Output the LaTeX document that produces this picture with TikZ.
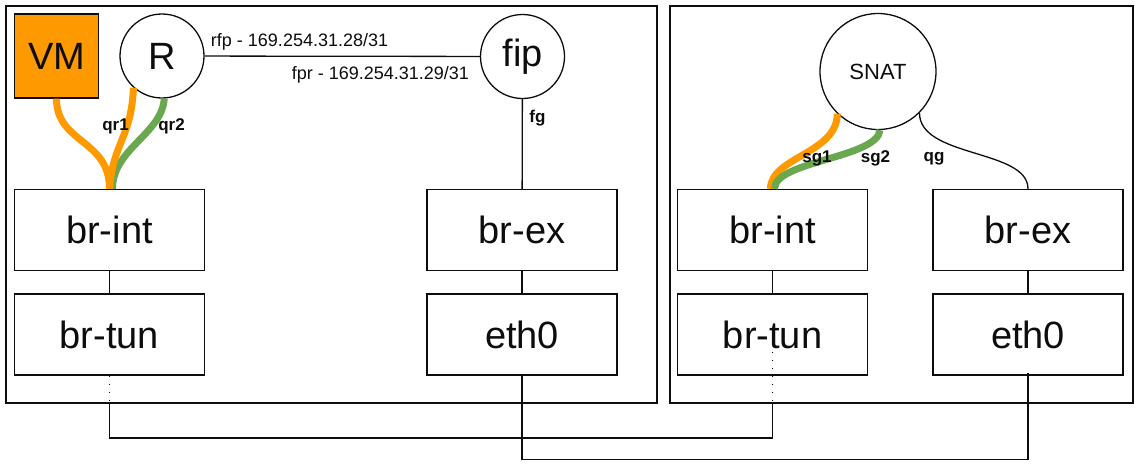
\documentclass[tikz,border=0pt]{standalone}
\usepackage{fontspec}
\setmainfont{Liberation Sans}
\usepackage{tikz}
\usetikzlibrary{calc, positioning}
\definecolor{vmOrange}{HTML}{FF9900}
\definecolor{linkGreen}{HTML}{6AA84F}
\definecolor{lineBlack}{gray}{0.05}

\begin{document}
\begin{tikzpicture}[x=1pt, y=-1pt, line width=1.3pt, lineBlack,
    bridge/.style={draw, rectangle, minimum width=190pt, minimum height=81pt, inner sep=0pt, font=\fontsize{38}{38}\selectfont},
    router/.style={draw, circle, minimum size=84pt, inner sep=0pt, font=\fontsize{38}{38}\selectfont},
    portlabel/.style={anchor=base, font=\fontsize{17}{17}\selectfont\bfseries},
    addrlabel/.style={font=\fontsize{18}{18}\selectfont},
    orangeLink/.style={vmOrange, line width=7pt},
    greenLink/.style={linkGreen, line width=7pt}]
    \useasboundingbox (0,0) rectangle (1137,467);
    % hosts
    \draw (6,6) rectangle (657,403);
    \draw (670,6) rectangle (1133,403);
    % network node
    \node[draw, rectangle, fill=vmOrange, minimum size=84pt, inner sep=0pt, font=\fontsize{38}{38}\selectfont] (VM) at (56.5,56) {VM};
    \node[router] (R) at (162,56) {R};
    \node[router] (fip) at (522.5,56.5) {fip};
    \node[bridge] (brintL) at (109.5,230) {br-int};
    \node[bridge] (brtunL) at (109.5,334.5) {br-tun};
    \node[bridge] (brexL) at (522,230) {br-ex};
    \node[bridge] (ethL) at (522,334.5) {eth0};
    % snat node
    \node[router, minimum size=116pt, font=\fontsize{22}{22}\selectfont] (SNAT) at (878,71.5) {SNAT};
    \node[bridge] (brintR) at (772.5,230) {br-int};
    \node[bridge] (brtunR) at (772.5,334.5) {br-tun};
    \node[bridge] (brexR) at (1028,230) {br-ex};
    \node[bridge] (ethR) at (1028,334.5) {eth0};

    \draw (R) -- (fip);
    \node[addrlabel, anchor=base west] at (207,46.5) {rfp - 169.254.31.28/31};
    \node[addrlabel, anchor=base east] at (473,79) {fpr - 169.254.31.29/31};
    \draw (fip) -- (brexL);
    \node[portlabel] at (537.5,122) {fg};
    \draw (brintL) -- (brtunL);
    \draw (brexL) -- (ethL);
    \draw (brintR) -- (brtunR);
    \draw (brexR) -- (ethR);

    \draw[greenLink] (R.-87) .. controls +(-2,35) and +(0,-40) .. ([xshift=3pt]brintL.north);
    \draw[orangeLink] (R.-132) .. controls +(-2,50) and +(3,-45) .. (brintL.north);
    \draw[orangeLink] (VM.south) .. controls +(0,45) and +(0,-50) .. (brintL.north);
    \node[portlabel] at (115.5,130) {qr1};
    \node[portlabel] at (171.5,130) {qr2};

    \draw[orangeLink] (SNAT.-134) .. controls +(0,40) and +(0,-32) .. ([xshift=-2pt]brintR.north);
    \draw[greenLink] (SNAT.-88) .. controls +(-3,28) and +(0,-28) .. ([xshift=2pt]brintR.north);
    \draw (SNAT.-45) .. controls +(0,45) and +(0,-40) .. (brexR.north);
    \node[portlabel] at (817,162) {sg1};
    \node[portlabel] at (875.5,162) {sg2};
    \node[portlabel] at (934,161) {qg};

    % tunnel and external links
    \coordinate (tunL) at (109.5,403);
    \coordinate (tunR) at (772.5,403);
    \draw[line width=1.5pt, dash pattern=on 1.5pt off 6.5pt] (brtunL.south) -- (tunL);
    \draw[line width=1.5pt, dash pattern=on 1.5pt off 6.5pt] ([yshift=32pt]brtunR.south) -- (tunR);
    \draw (tunL) -- ++(0,35) -| (tunR);
    \draw (ethL.south) -- ++(0,84) -| ([yshift=3pt]ethR.south);
\end{tikzpicture}
\end{document}
